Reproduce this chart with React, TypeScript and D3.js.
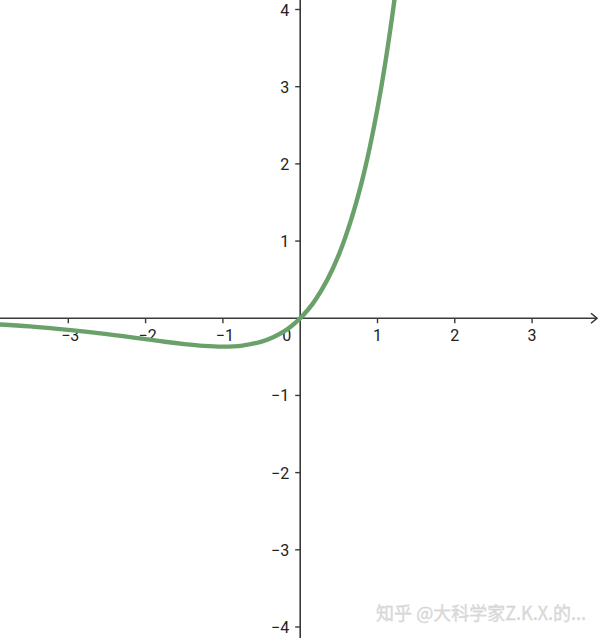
import { useEffect, useRef } from "react";
import * as d3 from "d3";

// points
const curveX = [-3.9, -3.5, -3, -2.5, -2, -1.75, -1.5, -1.25, -1, -0.75, -0.5, -0.35, -0.2, -0.1, 0, 0.1, 0.2, 0.35, 0.5, 0.65, 0.8, 0.9, 1, 1.1, 1.2, 1.25];
const curveY = [-0.08, -0.105, -0.15, -0.205, -0.27, -0.305, -0.335, -0.358, -0.368, -0.354, -0.303, -0.247, -0.164, -0.09, 0, 0.11, 0.244, 0.497, 0.824, 1.248, 1.78, 2.214, 2.718, 3.304, 3.984, 4.363];

const xTicks = [-3, -2, -1, 1, 2, 3];
const yTicks = [-4, -3, -2, -1, 1, 2, 3, 4];

export default function App() {
  const svgRef = useRef<SVGSVGElement | null>(null);

  useEffect(() => {
    const width = 600;
    const height = 638;
    const svg = d3.select(svgRef.current).attr("width", width).attr("height", height);
    svg.selectAll("*").remove();

    const x = d3.scaleLinear().domain([-3, 3]).range([68.3, 532.1]);
    const y = d3.scaleLinear().domain([-4, 4]).range([627, 9.5]);
    const x0 = x(0);
    const y0 = y(0);
    const axisColor = "#3a3a3a";
    const font = "Roboto, 'Noto Sans', sans-serif";

    // x axis with arrow
    svg.append("line").attr("x1", 0).attr("x2", 597).attr("y1", y0).attr("y2", y0)
      .attr("stroke", axisColor).attr("stroke-width", 1.6);
    svg.append("path").attr("d", `M${591},${y0 - 5} L${597},${y0} L${591},${y0 + 5}`)
      .attr("fill", "none").attr("stroke", axisColor).attr("stroke-width", 1.6);

    // y axis
    svg.append("line").attr("x1", x0).attr("x2", x0).attr("y1", 0).attr("y2", height)
      .attr("stroke", axisColor).attr("stroke-width", 1.6);

    const g = svg.append("g").attr("font-family", font).attr("font-size", 16).attr("fill", "#222");

    xTicks.forEach(t => {
      g.append("line").attr("x1", x(t)).attr("x2", x(t)).attr("y1", y0).attr("y2", y0 + 5)
        .attr("stroke", axisColor).attr("stroke-width", 1.4);
      g.append("text").attr("x", x(t) + (t < 0 ? 2 : 0)).attr("y", y0 + 23)
        .attr("text-anchor", "middle").text(t < 0 ? `\u2212${-t}` : `${t}`);
    });
    yTicks.forEach(t => {
      g.append("line").attr("x1", x0 - 5).attr("x2", x0).attr("y1", y(t)).attr("y2", y(t))
        .attr("stroke", axisColor).attr("stroke-width", 1.4);
      g.append("text").attr("x", x0 - 11).attr("y", y(t) + 6)
        .attr("text-anchor", "end").text(t < 0 ? `\u2212${-t}` : `${t}`);
    });
    g.append("text").attr("x", x0 - 9).attr("y", y0 + 23).attr("text-anchor", "end").text("0");

    const pts: [number, number][] = curveX.map((v, i) => [v, curveY[i]]);
    const line = d3.line<[number, number]>()
      .x(d => x(d[0]))
      .y(d => y(d[1]))
      .curve(d3.curveCatmullRom.alpha(0.5));
    svg.append("path").datum(pts).attr("d", line)
      .attr("fill", "none").attr("stroke", "#6aa06a").attr("stroke-width", 4.4)
      .attr("stroke-linecap", "round");

    // watermark
    svg.append("text").attr("x", 586).attr("y", 620).attr("text-anchor", "end")
      .attr("font-family", "'Noto Sans CJK SC', sans-serif").attr("font-size", 18)
      .attr("fill", "#dcdcdc").attr("stroke", "#cdcdcd").attr("stroke-width", 0.3)
      .text("知乎 @大科学家Z.K.X.的...");
  }, []);

  return (
    <div style={{ position: "absolute", left: 0, top: 0, width: 600, height: 638, overflow: "hidden", background: "#fff" }}>
      <svg ref={svgRef} style={{ display: "block" }}></svg>
    </div>
  );
}
